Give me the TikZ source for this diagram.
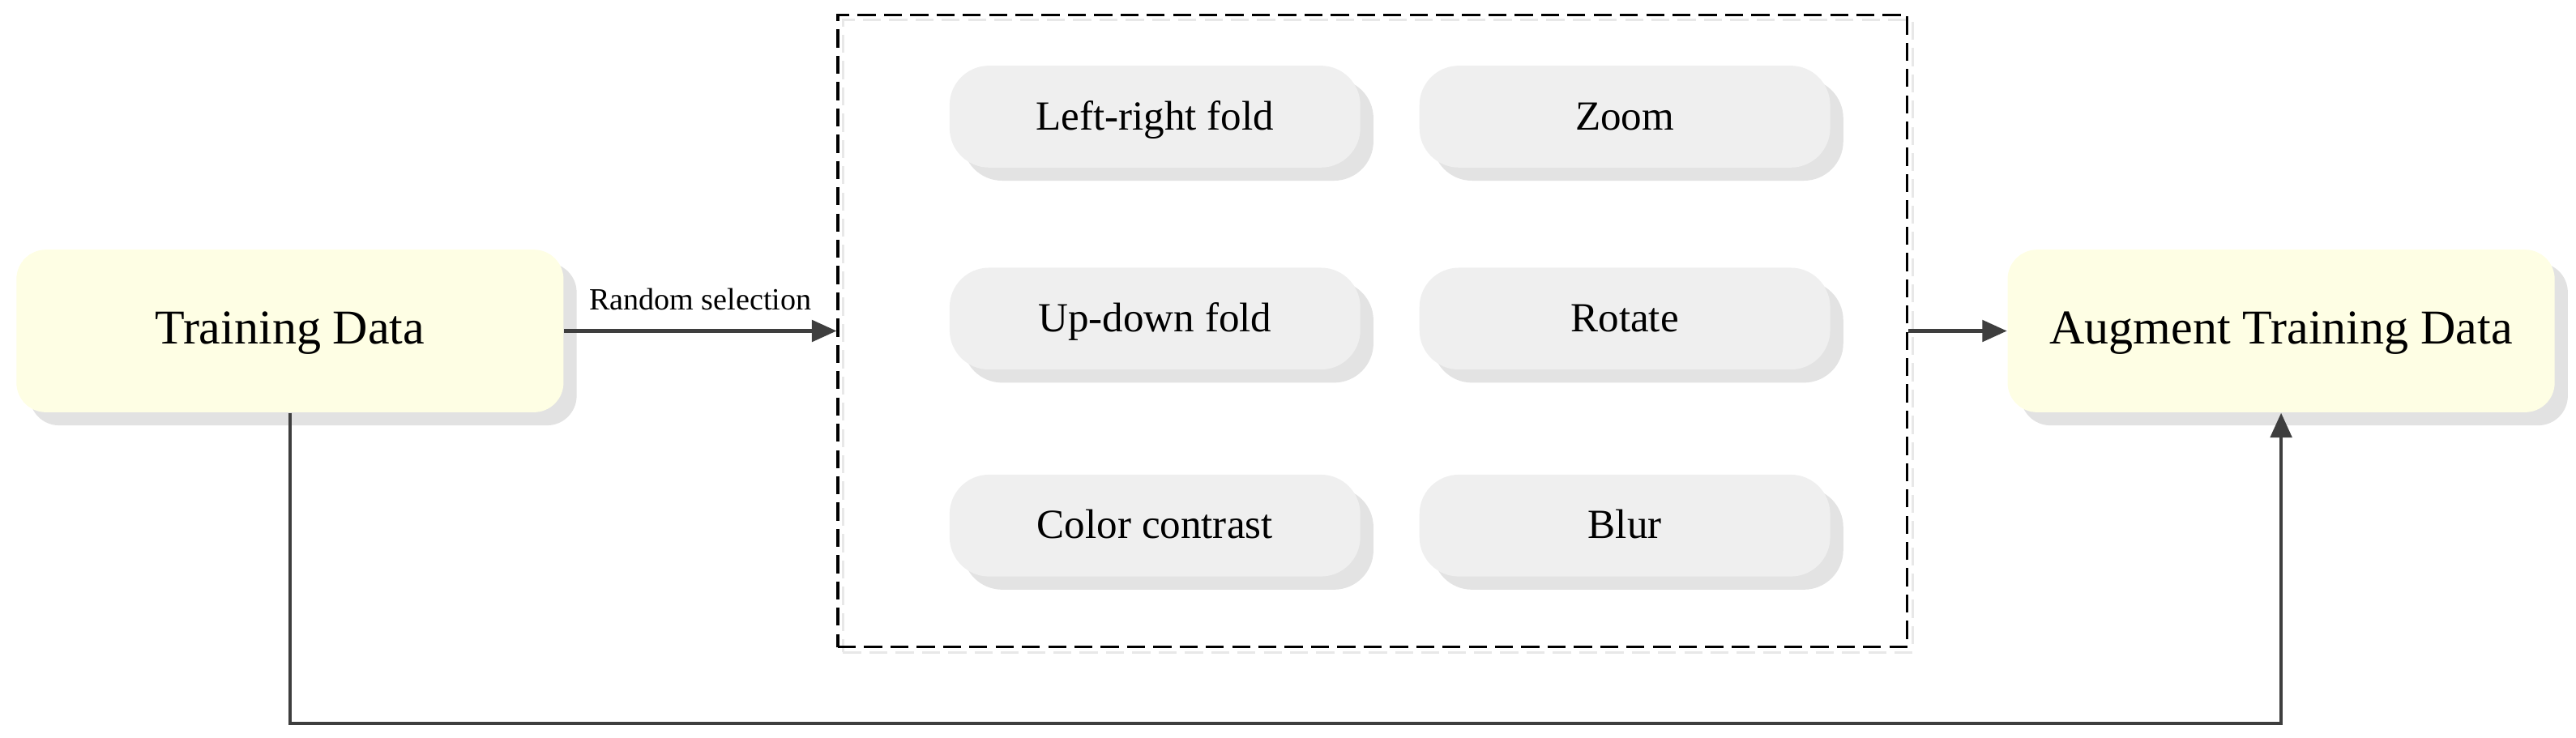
\documentclass[tikz,border=0pt]{standalone}
\usepackage{fontspec}
\setmainfont{Liberation Serif}
\usetikzlibrary{arrows.meta,shadows}
\definecolor{yel}{HTML}{FEFEE4}
\definecolor{yelshadow}{HTML}{E2E2E2}
\definecolor{opfill}{HTML}{EFEFEF}
\definecolor{opshadow}{HTML}{E3E3E3}
\definecolor{arrowcol}{HTML}{3E3E3E}
\begin{document}
\begin{tikzpicture}[x=0.5pt,y=-0.5pt,
  databox/.style={rectangle, rounded corners=9pt, fill=yel, minimum width=166.5pt, minimum height=49.5pt,
    inner sep=0pt, font=\fontsize{14.8}{17}\selectfont, text height=1.0em, text depth=0.2em,
    drop shadow={shadow xshift=4pt, shadow yshift=-4pt, fill=yelshadow, opacity=1}},
  opbox/.style={rectangle, rounded corners=12pt, fill=opfill, minimum width=125pt, minimum height=31pt,
    inner sep=0pt, font=\fontsize{12.6}{15}\selectfont, text height=1.0em, text depth=0.2em,
    drop shadow={shadow xshift=4pt, shadow yshift=-4pt, fill=opshadow, opacity=1}},
  selbox/.style={rectangle, minimum width=325.5pt, minimum height=192.5pt, inner sep=0pt,
    line width=0.8pt, dash pattern=on 5.5pt off 2.5pt},
  conn/.style={draw=arrowcol, line width=1.05pt, -{Triangle[length=7.5pt, width=6.5pt]}}
]
\useasboundingbox (0,0) rectangle (1568,449);

% dashed selection frame with faint shadow
\node[selbox, draw=gray!18, xshift=1.6pt, yshift=-1.6pt] (selshadow) at (835.5,201.5) {};
\node[selbox, draw=black] (sel) at (835.5,201.5) {};

% main data boxes
\node[databox] (train) at (176.5,201.5) {Training Data};
\node[databox] (aug) at (1388.5,201.5) {Augment Training Data};

% operation boxes
\node[opbox] (lr)   at (703,71)  {Left-right fold};
\node[opbox] (zoom) at (989,71)  {Zoom};
\node[opbox] (ud)   at (703,194) {Up-down fold};
\node[opbox] (rot)  at (989,194) {Rotate};
\node[opbox] (cc)   at (703,320) {Color contrast};
\node[opbox] (blur) at (989,320) {Blur};

% connectors
\draw[conn] (train.east) -- node[above=2.5pt, font=\fontsize{9.4}{11}\selectfont, text=black] (lbl) {Random selection} (sel.west);
\draw[conn] (sel.east) -- (aug.west);
\draw[conn] (train.south) -- ++(0,189) -| (aug.south);
\end{tikzpicture}
\end{document}
